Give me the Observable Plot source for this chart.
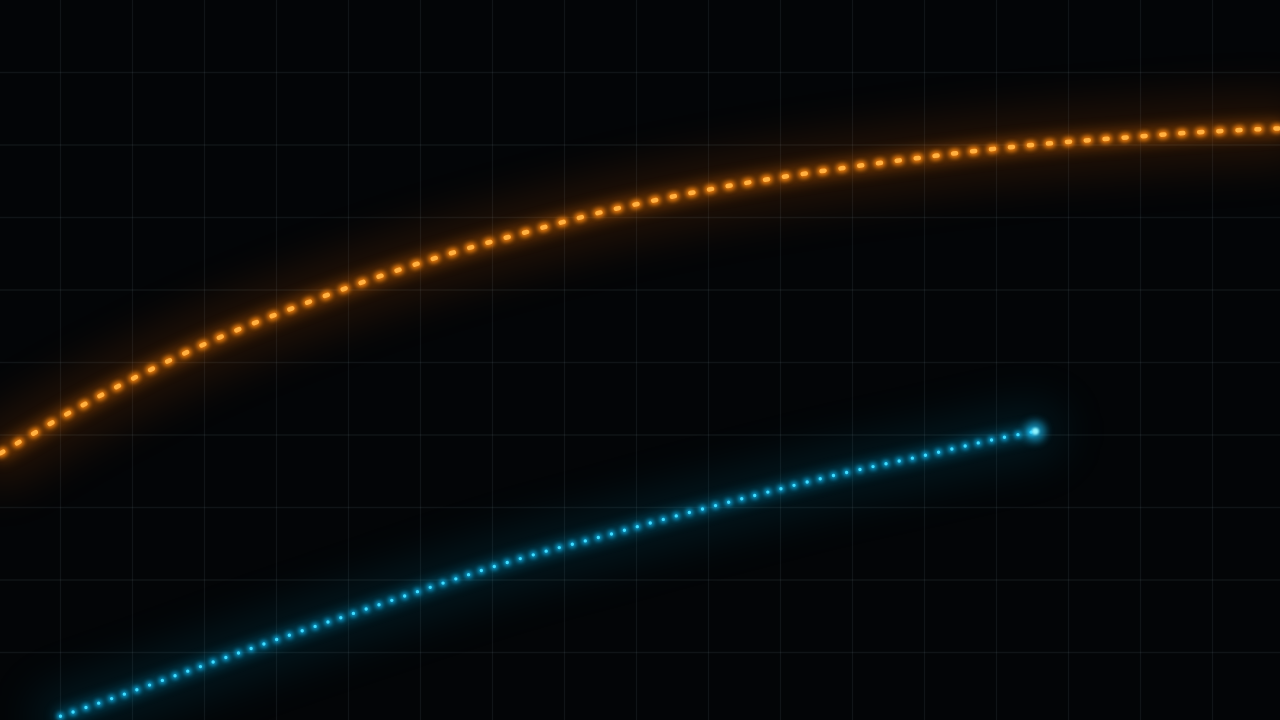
<!DOCTYPE html>
<html>
<head>
<meta charset="utf-8">
<script src="https://cdn.jsdelivr.net/npm/d3@7"></script>
<script src="https://cdn.jsdelivr.net/npm/@observablehq/plot@0.6"></script>
<style>
  html, body { margin: 0; padding: 0; background: #030507; overflow: hidden; }
  #chart svg { display: block; }
</style>
</head>
<body>
<div id="chart"></div>
<script>
// Grid positions (grid units)
const gridXValues = [0, 1, 2, 3, 4, 5, 6, 7, 8, 9, 10, 11, 12, 13, 14, 15, 16];
const gridYValues = [0, 1, 2, 3, 4, 5, 6, 7, 8];

// Orange series
const orangeX = [-0.83, 0.18, 1.21, 2.22, 3.25, 4.32, 5.40, 6.44, 7.50, 8.71, 9.72, 10.92, 11.83, 12.72, 13.83, 14.75, 15.69, 16.94];
const orangeY = [2.75, 3.34, 3.88, 4.35, 4.76, 5.15, 5.50, 5.79, 6.07, 6.33, 6.51, 6.69, 6.81, 6.92, 7.03, 7.10, 7.17, 7.23];

// Cyan series
const cyanX = [0.00, 0.90, 1.90, 2.92, 4.07, 5.17, 5.97, 6.79, 7.56, 8.35, 9.54, 10.86, 11.92, 12.97, 13.54];
const cyanY = [-0.88, -0.57, -0.21, 0.15, 0.54, 0.91, 1.17, 1.41, 1.61, 1.83, 2.14, 2.47, 2.70, 2.94, 3.05];

const orange = orangeX.map((x, i) => ({x, y: orangeY[i]}));
const cyan = cyanX.map((x, i) => ({x, y: cyanY[i]}));
const cyanEnd = [cyan[cyan.length - 1]];

const curve = "catmull-rom";

const chart = Plot.plot({
  width: 1280,
  height: 720,
  margin: 0,
  x: {domain: [-0.8333, 16.944], axis: null},
  y: {domain: [-0.938, 8.993], axis: null},
  style: {background: "#030507", overflow: "hidden"},
  marks: [
    Plot.ruleX(gridXValues, {stroke: "#9fb8c8", strokeOpacity: 0.085, strokeWidth: 1.3}),
    Plot.ruleY(gridYValues, {stroke: "#9fb8c8", strokeOpacity: 0.085, strokeWidth: 1.3}),
    // wide haze
    Plot.line(orange, {x: "x", y: "y", curve, stroke: "#ff6a00", strokeWidth: 70, strokeOpacity: 0.12, ariaDescription: "haze-o"}),
    Plot.line(cyan, {x: "x", y: "y", curve, stroke: "#0090c0", strokeWidth: 60, strokeOpacity: 0.12, ariaDescription: "haze-c"}),
    // glow
    Plot.line(orange, {x: "x", y: "y", curve, stroke: "#ff7a00", strokeWidth: 14, strokeOpacity: 0.4, ariaDescription: "glow-o"}),
    Plot.line(cyan, {x: "x", y: "y", curve, stroke: "#00a8e0", strokeWidth: 12, strokeOpacity: 0.35, ariaDescription: "glow-c"}),
    // dots halo
    Plot.line(orange, {x: "x", y: "y", curve, stroke: "#ff8a10", strokeWidth: 9, strokeDasharray: "3 16", strokeLinecap: "round", strokeOpacity: 0.9, ariaDescription: "halo-o"}),
    Plot.line(cyan, {x: "x", y: "y", curve, stroke: "#10b8f0", strokeWidth: 7, strokeDasharray: "0 13.5", strokeLinecap: "round", strokeOpacity: 0.9, ariaDescription: "halo-c"}),
    // dots core
    Plot.line(orange, {x: "x", y: "y", curve, stroke: "#ffb040", strokeWidth: 4.5, strokeDasharray: "3 16", strokeLinecap: "round", ariaDescription: "core-o"}),
    Plot.line(cyan, {x: "x", y: "y", curve, stroke: "#40dcff", strokeWidth: 3.4, strokeDasharray: "0 13.5", strokeLinecap: "round", ariaDescription: "core-c"}),
    // end point
    Plot.dot(cyanEnd, {x: "x", y: "y", r: 10, fill: "#20c8ff", fillOpacity: 0.6, ariaDescription: "end-glow"}),
    Plot.dot(cyanEnd, {x: "x", y: "y", r: 3.5, fill: "#8ef4ff", ariaDescription: "end-core"})
  ]
});

document.getElementById("chart").appendChild(chart);
const svg = d3.select(chart);
const blurs = {"haze-o": 22, "haze-c": 22, "glow-o": 7, "glow-c": 6, "halo-o": 2.2, "halo-c": 2, "core-o": 0.6, "core-c": 0.5, "end-glow": 4, "end-core": 0.8};
for (const [k, v] of Object.entries(blurs)) {
  svg.selectAll(`g[aria-description="${k}"]`).style("filter", `blur(${v}px)`);
}
</script>
</body>
</html>
